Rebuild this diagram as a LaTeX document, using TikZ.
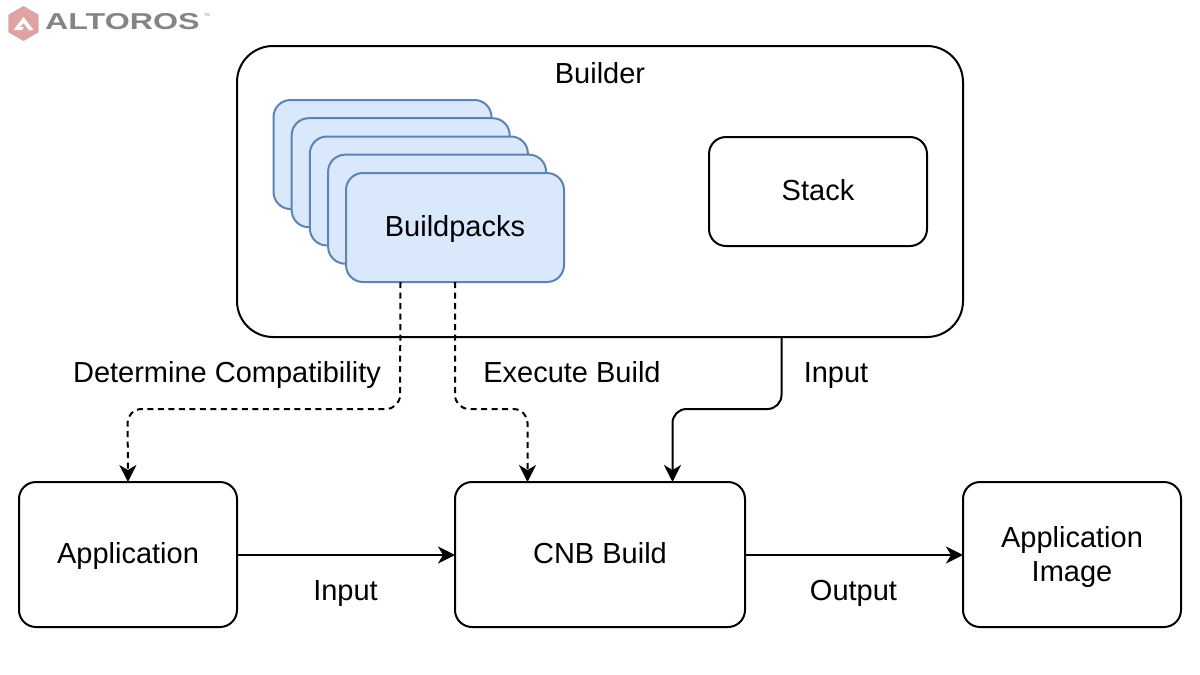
\documentclass[tikz,border=0pt]{standalone}
\usepackage{fontspec}
\usepackage{graphicx}
\setmainfont{Liberation Sans}
\usetikzlibrary{arrows.meta, shapes.geometric}
\definecolor{packfill}{HTML}{DAE8FC}
\definecolor{packline}{HTML}{5F82B5}
\definecolor{logored}{HTML}{DFA3A3}
\definecolor{logogray}{HTML}{858585}

\tikzset{
  box/.style={draw=black, line width=2pt, rounded corners=17pt, outer sep=0pt, align=center, text height=21pt, text depth=3pt, font=\fontsize{29}{34}\selectfont},
  pack/.style={box, draw=packline, fill=packfill, minimum width=218pt, minimum height=109pt},
  label/.style={inner sep=0pt, text height=21pt, text depth=3pt, font=\fontsize{29}{34}\selectfont},
  link/.style={line width=2pt, rounded corners=14pt, -{Stealth[length=17pt, width=17pt, inset=5pt]}},
  dashlink/.style={link, dash pattern=on 6pt off 4.5pt}
}

\begin{document}
\begin{tikzpicture}[x=1pt, y=1pt]
\useasboundingbox[fill=white] (0,0) rectangle (1200,-675);

% logo
\node[regular polygon, regular polygon sides=6, shape border rotate=90, fill=logored, minimum size=35pt, inner sep=0pt] (hex) at (23.5,-23.5) {};
\fill[white] (13.5,-30) -- (23.5,-17) -- (33.5,-30) -- (29,-30) -- (23.5,-23) -- (20,-27) -- (24,-27) -- (22,-30) -- cycle;
\node[inner sep=0pt, anchor=west, text=logogray] (logotext) at (45,-22) {\scalebox{1.4}[1]{\fontsize{23}{23}\selectfont\bfseries ALTOROS}};
\node[inner sep=0pt, anchor=west, text=logogray] (logotm) at (204,-15) {\fontsize{4}{4}\selectfont TM};

% builder
\node[box, rounded corners=36pt, minimum width=726pt, minimum height=291pt] (builder) at (600,-191.5) {};
\node[label] (buildertext) at (600,-74.5) {Builder};
\node[pack] (pack1) at (382.5,-154.5) {};
\node[pack] (pack2) at (400.7,-172.7) {};
\node[pack] (pack3) at (418.9,-191) {};
\node[pack] (pack4) at (437.1,-209.2) {};
\node[pack] (pack5) at (455,-227.5) {Buildpacks};
\node[box, minimum width=218pt, minimum height=109pt] (stack) at (818,-191.5) {Stack};

% bottom row
\node[box, minimum width=218pt, minimum height=145pt] (app) at (128,-554.5) {Application};
\node[box, minimum width=290pt, minimum height=145pt] (cnb) at (600,-554.5) {CNB Build};
\node[box, text height=56pt, minimum width=218pt, minimum height=145pt] (image) at (1072,-554.5) {Application\\Image};

% links
\draw[dashlink] ([xshift=54.5pt]pack5.south west) -- (400,-409) -- (127.5,-409) -- (app.north);
\draw[dashlink] (pack5.south) -- (455,-409) -- (527.5,-409) -- ([xshift=-72.5pt]cnb.north);
\draw[link] ([xshift=181.5pt]builder.south) -- (781.5,-409) -- (672.5,-409) -- ([xshift=72.5pt]cnb.north);
\draw[link] ([yshift=-0.5pt]app.east) -- ([yshift=-0.5pt]cnb.west);
\draw[link] ([yshift=-0.5pt]cnb.east) -- ([yshift=-0.5pt]image.west);

\node[label] (determine) at (227,-373.5) {Determine Compatibility};
\node[label] (execute) at (572,-373.5) {Execute Build};
\node[label] (input1) at (836,-373.5) {Input};
\node[label] (input2) at (345.5,-591.5) {Input};
\node[label] (output) at (853.5,-591.5) {Output};
\end{tikzpicture}
\end{document}
